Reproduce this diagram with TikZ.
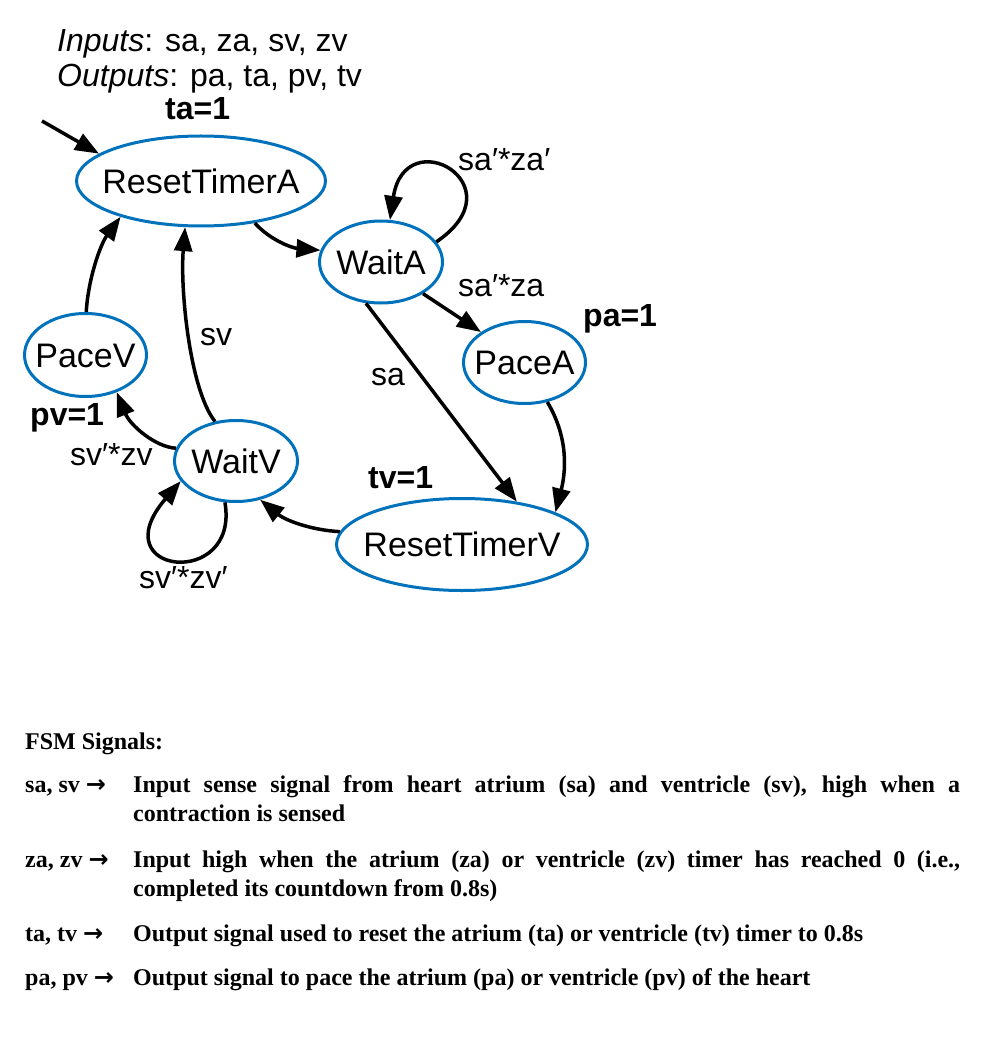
\documentclass[tikz,border=0pt]{standalone}
\usepackage{fontspec}
\setmainfont{Liberation Sans}
\newfontfamily\tnr{Liberation Serif}
\newfontfamily\dv{DejaVu Sans}
\usetikzlibrary{shapes.geometric,arrows.meta}
\definecolor{stblue}{RGB}{0,114,188}
\newcommand{\ctxt}[1]{\smash{\raisebox{-.36em}{\makebox[0pt]{#1}}}}
\begin{document}
\begin{tikzpicture}[x=1pt,y=-1pt,
  state/.style={ellipse, draw=stblue, line width=3pt, inner sep=0pt,
    font=\fontsize{34}{40}\selectfont},
  edge/.style={line width=3.5pt, -{Triangle[length=24pt,width=18pt]}},
  lbl/.style={inner sep=0pt, anchor=base west, font=\fontsize{32}{38}\selectfont},
  outlbl/.style={inner sep=0pt, anchor=base west, font=\fontsize{32}{38}\selectfont\bfseries},
  ttl/.style={inner sep=0pt, anchor=base west, font=\fontsize{32}{36}\selectfont},
  desc/.style={inner sep=0pt, anchor=base west, font=\tnr\bfseries\fontsize{24}{29}\selectfont},
  descbody/.style={desc, text width=827pt, align=justify}]
\fill[white] (0,0) rectangle (1002,1048);
\useasboundingbox (0,0) rectangle (1002,1048);

% title
\node[ttl] (inp) at (57,52) {\textit{Inputs}: sa, za, sv, zv};
\node[ttl] (outp) at (57,87) {\textit{Outputs}: pa, ta, pv, tv};

% states
\node[state, minimum width=249pt, minimum height=90pt] (rta) at (201,181) {\ctxt{ResetTimerA}};
\node[state, minimum width=123pt, minimum height=82pt] (wa) at (381,262) {\ctxt{WaitA}};
\node[state, minimum width=122pt, minimum height=82pt] (pa) at (524.5,362.5) {\ctxt{PaceA}};
\node[state, minimum width=251pt, minimum height=92pt] (rtv) at (462,544.5) {\ctxt{ResetTimerV}};
\node[state, minimum width=122pt, minimum height=83pt] (pv) at (85.5,355) {\ctxt{PaceV}};
\node[state, minimum width=123pt, minimum height=81pt] (wv) at (236,461) {\ctxt{WaitV}};

% outputs
\node[outlbl] (ta1) at (165,120) {ta=1};
\node[outlbl] (pa1) at (583,326) {pa=1};
\node[outlbl] (tv1) at (368,488) {tv=1};
\node[outlbl] (pv1) at (30,425) {pv=1};

% transition labels
\node[lbl] (l1) at (458,171) {sa′*za′};
\node[lbl] (l2) at (458,297) {sa′*za};
\node[lbl] (l3) at (371,385) {sa};
\node[lbl] (l4) at (200,345) {sv};
\node[lbl] (l5) at (70,465) {sv′*zv};
\node[lbl] (l6) at (139,588) {sv′*zv′};

% transitions
\coordinate (init) at (42,121);
\draw[edge] (init) -- (rta.165);
\draw[edge] (rta.-38) .. controls (270,240) and (292,248) .. (wa.169);
\draw[edge] (wa.20) .. controls (520,185) and (405,120) .. (wa.78);
\draw[edge] (wa.-37) -- (pa.145);
\draw[edge] (wa.-110) -- (rtv.38);
\draw[edge] (pa.-60) .. controls (570,440) and (565,475) .. (rtv.19);
\draw[edge] (rtv.174) .. controls (310,530) and (285,520) .. (wv.-58);
\draw[edge] (wv.-105) .. controls (240,590) and (100,575) .. (wv.-160);
\draw[edge] (wv.168) .. controls (155,447) and (130,425) .. (pv.-50);
\draw[edge] (wv.118) .. controls (190,390) and (180,290) .. (rta.-109);
\draw[edge] (pv.89) .. controls (88,280) and (100,245) .. (rta.-156);

% legend
\node[desc] (fsm) at (25,749) {FSM Signals:};
\node[desc] (k1) at (25,792) {sa, sv {\dv →}};
\node[descbody] (d1) at (133,792) {Input sense signal from heart atrium (sa) and ventricle (sv), high when a\linebreak contraction is sensed};
\node[desc] (k2) at (25,867) {za, zv {\dv →}};
\node[descbody] (d2) at (133,867) {Input high when the atrium (za) or ventricle (zv) timer has reached 0 (i.e.,\linebreak completed its countdown from 0.8s)};
\node[desc] (k3) at (25,941) {ta, tv {\dv →}};
\node[desc] (d3) at (133,941) {Output signal used to reset the atrium (ta) or ventricle (tv) timer to 0.8s};
\node[desc] (k4) at (25,985) {pa, pv {\dv →}};
\node[desc] (d4) at (133,985) {Output signal to pace the atrium (pa) or ventricle (pv) of the heart};
\end{tikzpicture}
\end{document}
